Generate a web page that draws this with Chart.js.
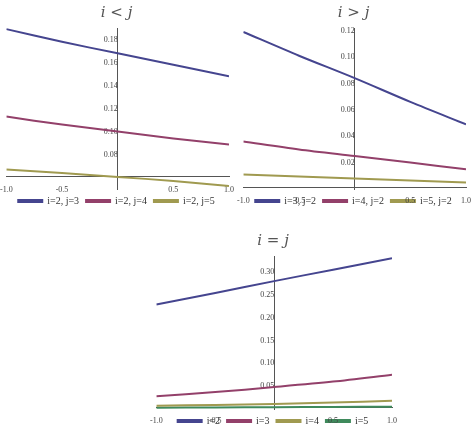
<!DOCTYPE html>
<html>
<head>
<script src="https://cdn.jsdelivr.net/npm/chart.js@4"></script>
<style>
body { margin: 0; background: #fff; width: 474px; height: 440px; position: relative; }
.box { position: absolute; }
</style>
</head>
<body>
<div class="box" style="left:0;top:0;width:237px;height:220px"><canvas id="c1"></canvas></div>
<div class="box" style="left:237px;top:0;width:237px;height:220px"><canvas id="c2"></canvas></div>
<div class="box" style="left:150px;top:228px;width:250px;height:212px"><canvas id="c3"></canvas></div>
<script>
const xs = [-1, -0.5, 0, 0.5, 1];

// i < j
const lt23 = [0.189, 0.178, 0.168, 0.158, 0.148];
const lt24 = [0.113, 0.106, 0.100, 0.094, 0.0887];
const lt25 = [0.067, 0.064, 0.0605, 0.057, 0.0525];
const ltTicks = [0.08, 0.10, 0.12, 0.14, 0.16, 0.18];

// i > j
const gt32 = [0.119, 0.101, 0.084, 0.066, 0.049];
const gt42 = [0.036, 0.030, 0.025, 0.020, 0.015];
const gt52 = [0.011, 0.0095, 0.008, 0.0065, 0.005];
const gtTicks = [0.02, 0.04, 0.06, 0.08, 0.10, 0.12];

// i = j
const eq2 = [0.229, 0.254, 0.280, 0.305, 0.330];
const eq3 = [0.028, 0.037, 0.048, 0.060, 0.075];
const eq4 = [0.007, 0.009, 0.011, 0.014, 0.018];
const eq5 = [0.003, 0.0035, 0.004, 0.0045, 0.005];
const eqTicks = [0.05, 0.10, 0.15, 0.20, 0.25, 0.30];

const xTicks = [-1, -0.5, 0.5, 1];

const blue = '#45458f', red = '#93406a', olive = '#a09a50', green = '#3f8a5c';

function pts(ys) { return xs.map((x, i) => ({ x: x, y: ys[i] })); }

function makeChart(id, title, series, yMin, yMax, cross, yTicks) {
    new Chart(document.getElementById(id), {
        type: 'line',
        data: {
            datasets: series.map(s => ({
                label: s[0], data: pts(s[1]), borderColor: s[2], backgroundColor: s[2],
                borderWidth: 2, pointRadius: 0, tension: 0.3
            }))
        },
        options: {
            animation: false,
            responsive: true,
            maintainAspectRatio: false,
            layout: { padding: { left: 4, right: 8, bottom: 4 } },
            plugins: {
                title: { display: true, text: title, color: '#555', font: { family: 'DejaVu Serif', style: 'italic', size: 15, weight: 'normal' }, padding: { top: 4, bottom: 6 } },
                legend: {
                    position: 'bottom',
                    labels: { boxWidth: 24, boxHeight: 2, color: '#333', padding: 7, font: { family: 'Liberation Serif', size: 10 } }
                },
                tooltip: { enabled: false }
            },
            scales: {
                x: {
                    type: 'linear', min: -1, max: 1, position: { y: cross },
                    grid: { display: false },
                    border: { color: '#555' },
                    afterBuildTicks: a => { a.ticks = xTicks.map(v => ({ value: v })); },
                    ticks: { color: '#444', padding: 0, font: { family: 'Liberation Serif', size: 8 },
                        callback: v => v.toFixed(1) }
                },
                y: {
                    min: yMin, max: yMax, position: { x: 0 },
                    grid: { display: false },
                    border: { color: '#555' },
                    afterBuildTicks: a => { a.ticks = yTicks.map(v => ({ value: v })); },
                    ticks: { color: '#444', font: { family: 'Liberation Serif', size: 8 },
                        callback: v => v.toFixed(2) }
                }
            }
        }
    });
}

makeChart('c1', 'i < j', [['i=2, j=3', lt23, blue], ['i=2, j=4', lt24, red], ['i=2, j=5', lt25, olive]], 0.05, 0.19, 0.0605, ltTicks);
makeChart('c2', 'i > j', [['i=3, j=2', gt32, blue], ['i=4, j=2', gt42, red], ['i=5, j=2', gt52, olive]], 0, 0.122, 0.001, gtTicks);
makeChart('c3', 'i = j', [['i=2', eq2, blue], ['i=3', eq3, red], ['i=4', eq4, olive], ['i=5', eq5, green]], 0, 0.335, 0.003, eqTicks);
</script>
</body>
</html>
